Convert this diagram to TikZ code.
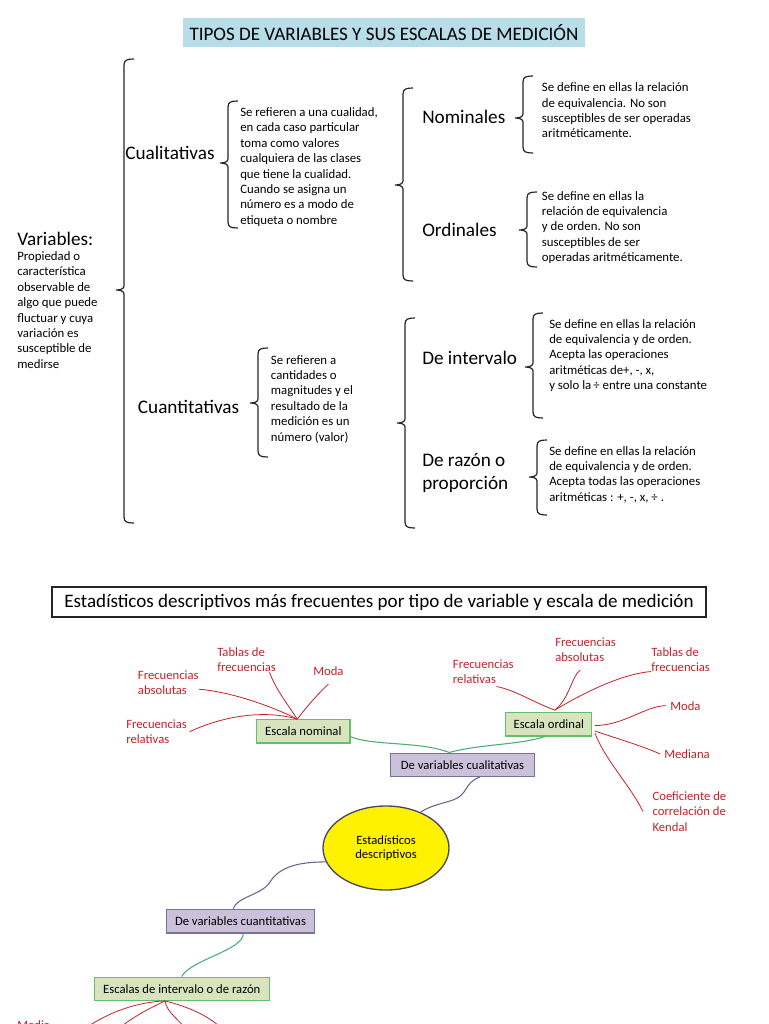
\documentclass[tikz,border=0pt]{standalone}
\usepackage{fontspec}
\setmainfont{Carlito}
\usetikzlibrary{shapes.geometric}

\definecolor{celeste}{RGB}{183,221,232}
\definecolor{verdecaja}{RGB}{215,228,189}
\definecolor{verdeborde}{RGB}{100,190,110}
\definecolor{lilacaja}{RGB}{204,193,218}
\definecolor{lilaborde}{RGB}{120,112,150}
\definecolor{rojo}{RGB}{200,30,40}
\definecolor{verdelinea}{RGB}{70,175,115}
\definecolor{lilalinea}{RGB}{105,100,140}

% llave: x, arriba, medio, abajo
\newcommand{\llave}[4]{%
  \draw[llave] (#1+10,#2) .. controls (#1+3,#2) and (#1,#2+1) .. (#1,#2+6)
    -- (#1,#3-4) .. controls (#1,#3-1) and (#1-4,#3) .. (#1-8,#3)
    .. controls (#1-4,#3) and (#1,#3+1) .. (#1,#3+4)
    -- (#1,#4-6) .. controls (#1,#4-1) and (#1+3,#4) .. (#1+10,#4);}

\begin{document}
\begin{tikzpicture}[x=0.75pt, y=-0.75pt,
    grande/.style={font=\fontsize{14.4}{16.5}\selectfont, inner sep=0pt, anchor=base west, align=left},
    chico/.style={font=\fontsize{9.6}{11.55}\selectfont, inner sep=0pt, anchor=base west, align=left},
    llave/.style={line width=0.9pt, black!85},
    etiq/.style={text=rojo, font=\fontsize{9.5}{11.4}\selectfont, inner sep=0pt, anchor=base west, align=left},
    rama/.style={rojo, line width=0.6pt},
    caja/.style={draw, line width=0.8pt, font=\fontsize{9.5}{11}\selectfont, inner sep=0pt, minimum height=17.5pt},
    verde/.style={caja, fill=verdecaja, draw=verdeborde},
    lila/.style={caja, fill=lilacaja, draw=lilaborde},
    enlace/.style={line width=0.8pt}]
    \useasboundingbox (0,0) rectangle (768,1024);
    \clip (0,0) rectangle (768,1024);

    % cuadro sinoptico (nodos de varias lineas: posicion = base de la ultima linea)
    \node[fill=celeste, minimum width=301.5pt, minimum height=21.75pt, inner sep=0pt,
        font=\fontsize{14.3}{16}\selectfont] (titulo) at (384,32.5)
        {TIPOS DE VARIABLES Y SUS ESCALAS DE MEDICIÓN};

    \node[grande] (var) at (17,245) {Variables:};
    \node[chico] (vardef) at (17,368.3) {Propiedad o\\característica\\observable de\\algo que puede\\fluctuar y cuya\\variación es\\susceptible de\\medirse};
    \llave{124}{59}{290}{523}

    \node[grande] (cuali) at (125,159) {Cualitativas};
    \llave{228}{101}{163}{228}
    \node[chico] (cualidef) at (240,224.3) {Se refieren a una cualidad,\\en cada caso particular\\toma como valores\\cualquiera de las clases\\que tiene la cualidad.\\Cuando se asigna un\\número es a modo de\\etiqueta o nombre};

    \node[grande] (cuanti) at (137.7,413.3) {Cuantitativas};
    \llave{258}{348}{403}{457}
    \node[chico] (cuantidef) at (270.7,441) {Se refieren a\\cantidades o\\magnitudes y el\\resultado de la\\medición es un\\número (valor)};

    \llave{403}{88}{185}{281}
    \node[grande] (nomi) at (422,123.3) {Nominales};
    \llave{523}{76}{118}{153}
    \node[chico] (nomidef) at (541.7,137.9) {Se define en ellas la relación\\de equivalencia. No son\\susceptibles de ser operadas\\aritméticamente.};
    \node[grande] (ordi) at (422,236.7) {Ordinales};
    \llave{527}{192}{230}{267}
    \node[chico] (ordidef) at (541.7,261.6) {Se define en ellas la\\relación de equivalencia\\y de orden. No son\\susceptibles de ser\\operadas aritméticamente.};

    \llave{405}{318}{423}{528}
    \node[grande] (inter) at (422,364) {De intervalo};
    \llave{533}{313}{367}{418}
    \node[chico] (interdef) at (549,389.6) {Se define en ellas la relación\\de equivalencia y de orden.\\Acepta las operaciones\\aritméticas de+, -, x,\\y solo la\,÷ entre una constante};
    \node[grande, font=\fontsize{14.4}{16.8}\selectfont] (razon) at (422,489.1) {De razón o\\proporción};
    \llave{537}{440}{477}{515}
    \node[chico] (razondef) at (549,501.2) {Se define en ellas la relación\\de equivalencia y de orden.\\Acepta todas las operaciones\\aritméticas : +, -, x, ÷ .};

    % mapa de estadisticos
    \node[draw=black!85, line width=0.8pt, minimum width=490.5pt, minimum height=22.5pt, inner sep=0pt,
        font=\fontsize{14.3}{16}\selectfont] (titulo2) at (379,602)
        {Estadísticos descriptivos más frecuentes por tipo de variable y escala de medición};

    \node[ellipse, draw=lilalinea!70!black, fill=yellow, line width=1pt, minimum width=94.5pt,
        minimum height=63pt, inner sep=0pt, align=center, font=\fontsize{9.5}{11}\selectfont]
        (est) at (386,848) {Estadísticos\\descriptivos};
    \node[verde, minimum width=70pt] (nom) at (303.3,731.3) {Escala nominal};
    \node[lila, minimum width=107.7pt] (cual) at (462.5,764.7) {De variables cualitativas};
    \node[verde, minimum width=64.3pt] (ord) at (548.8,724.3) {Escala ordinal};
    \node[lila, minimum width=110.7pt] (cuant) at (240.5,921.3) {De variables cuantitativas};
    \node[verde, minimum width=131.25pt] (esc) at (181.8,988.7) {Escalas de intervalo o de razón};

    \node[etiq] (nfr) at (126,743.5) {Frecuencias\\relativas};
    \node[etiq] (nfa) at (137.7,694.5) {Frecuencias\\absolutas};
    \node[etiq] (ntf) at (217,671.9) {Tablas de\\frecuencias};
    \node[etiq] (nmo) at (313,675.7) {Moda};
    \node[etiq] (ofr) at (452.7,683.5) {Frecuencias\\relativas};
    \node[etiq] (ofa) at (555,661.9) {Frecuencias\\absolutas};
    \node[etiq] (otf) at (651,671.2) {Tablas de\\frecuencias};
    \node[etiq] (omo) at (670,710) {Moda};
    \node[etiq] (ome) at (664,758.3) {Mediana};
    \node[etiq] (oco) at (652.3,831.1) {Coeficiente de\\correlación de\\Kendal};
    \node[etiq] (med) at (17,1029.5) {Media};

    \draw[enlace, verdelinea] ([yshift=-4pt]nom.east) .. controls (372,746) and (420,741) .. ([xshift=-10pt]cual.north);
    \draw[enlace, verdelinea] ([xshift=-3pt]ord.south) .. controls (520,745) and (480,744) .. ([xshift=-10pt]cual.north);
    \draw[enlace, lilalinea] ([xshift=13pt]cual.south) .. controls (462,784) and (470,795) .. (450,801)
        .. controls (440,804) and (430,806) .. (est.46);
    \draw[enlace, lilalinea] (est.193) .. controls (300,862) and (280,866) .. (270,882)
        .. controls (262,895) and (236,897) .. ([xshift=-5.5pt]cuant.north);
    \draw[enlace, verdelinea] ([xshift=2pt]cuant.south) .. controls (244,950) and (190,960) .. (esc.north);

    \coordinate (nomtop) at ([xshift=-4.5pt]nom.north);
    \draw[rama] (nomtop) .. controls (270,711) and (230,713) .. ([xshift=2pt]nfr.east);
    \draw[rama] (nomtop) .. controls (265,703) and (225,691) .. ([yshift=-5pt]nfa.east);
    \draw[rama] (nomtop) .. controls (288,705) and (275,688) .. ([xshift=-5pt]ntf.south east);
    \draw[rama] (nomtop) .. controls (308,705) and (318,694) .. ([yshift=-6pt]nmo.south);

    \coordinate (ordtop) at ([xshift=4.5pt, yshift=1.5pt]ord.north);
    \draw[rama] (ordtop) .. controls (535,703) and (515,690) .. ([xshift=-13pt, yshift=-2pt]ofr.south east);
    \draw[rama] (ordtop) .. controls (570,698) and (572,675) .. ([xshift=-4pt, yshift=-6pt]ofa.south);
    \draw[rama] (ordtop) .. controls (580,695) and (620,674) .. (otf.south west);
    \draw[rama] ([xshift=2pt, yshift=-1pt]ord.east) .. controls (625,725) and (645,706) .. ([xshift=-3pt]omo.west);
    \draw[rama] ([xshift=2pt, yshift=-5pt]ord.east) .. controls (615,738) and (640,745) .. ([xshift=-3pt]ome.west);
    \draw[rama] ([xshift=2pt, yshift=-6.5pt]ord.east) .. controls (605,760) and (630,785) .. ([xshift=-7pt]oco.west);

    \coordinate (escbase) at ([xshift=-12.5pt]esc.south);
    \coordinate (r1) at (80,1032);
    \coordinate (r2) at (112,1034);
    \coordinate (r3) at (190,1034);
    \coordinate (r4) at (225,1032);
    \draw[rama] (escbase) .. controls (140,1002) and (110,1010) .. (r1);
    \draw[rama] (escbase) .. controls (150,1008) and (130,1018) .. (r2);
    \draw[rama] (escbase) .. controls (166,1012) and (180,1020) .. (r3);
    \draw[rama] (escbase) .. controls (185,1006) and (210,1015) .. (r4);
\end{tikzpicture}
\end{document}
